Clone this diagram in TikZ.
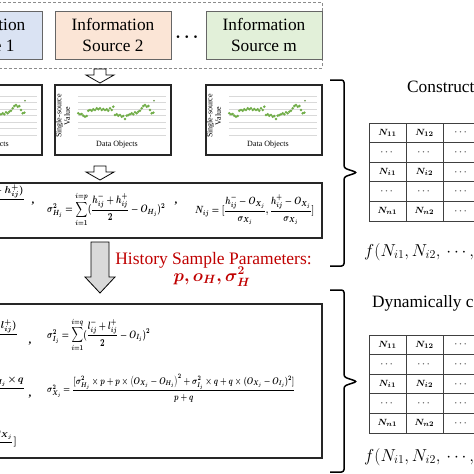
\documentclass[tikz,border=0pt]{standalone}
\usepackage{fontspec}
\setmainfont{Liberation Serif}
\usepackage{amsmath}
\usepackage{graphicx}
\usetikzlibrary{positioning}

\definecolor{srcblue}{RGB}{218,227,243}
\definecolor{srcorange}{RGB}{251,229,214}
\definecolor{srcgreen}{RGB}{226,240,217}
\definecolor{ptgreen}{RGB}{112,173,71}
\definecolor{histred}{RGB}{192,0,0}

\tikzset{
  srcbox/.style={draw=black!60, line width=0.8pt, minimum width=116pt, minimum height=48pt,
    align=center, font=\fontsize{17.3}{21}\selectfont},
  chartbox/.style={draw=black!85, line width=1.2pt},
  eqbox/.style={draw=black!85, line width=1.5pt},
  eq/.style={inner sep=0pt, font=\fontsize{10}{12}\selectfont\boldmath},
  hollow/.style={draw=black, fill=white, line width=0.8pt, line join=miter},
  tabline/.style={draw=black!75, line width=0.7pt},
  cell/.style={inner sep=0pt, font=\fontsize{9.5}{12}\selectfont\boldmath},
  bracket/.style={line width=1.5pt, rounded corners=2.5pt},
}

\begin{document}
\begin{tikzpicture}[x=1pt, y=-1pt]

\useasboundingbox (0,0) rectangle (474,474);
\clip (0,0) rectangle (474,474);
\fill[white] (0,0) rectangle (474,474);

\draw[dashed, dash pattern=on 3pt off 2pt, black!45] (-90,2) rectangle (322,68);

\node[srcbox, fill=srcblue] (src1) at (-16,35) {Information\\Source 1};
\node[srcbox, fill=srcorange] (src2) at (113,35) {Information\\Source 2};
\node[srcbox, fill=srcgreen] (srcm) at (264,35) {Information\\Source m};
\node[font=\fontsize{16}{18}\selectfont] (srcdots) at (188.5,37) {$\boldsymbol{\cdots}$};

\draw[hollow] (94,69) -- (106,69) -- (106,75) -- (114,75) -- (100,83) -- (86,75) -- (94,75) -- cycle;

\foreach \bx [count=\c] in {-74,55,206} {
  \draw[chartbox] (\bx,85) rectangle ++(116,70);
  \foreach \gy in {11,17.5,24,30.5,37,43.5,50}
    \draw[black!15, line width=0.5pt] (\bx+23,85+\gy) -- (\bx+111,85+\gy);
  \foreach \v [count=\k] in {28.3,29.3,29,30.7,31.7,31,25.7,25,25.7,24.3,25,23.3,24.3,23.3,25,24,
      25,24.3,25.7,23.3,25,21.7,30,29.3,30.7,30,31.7,31,34,30.7,30,29.3,28.3,29.3,27.3,28.3,
      26.7,25.7,23.3,21,20,21.7,21,25,28.3,27.7}
    \fill[ptgreen] (\bx+21.67+1.667*\k,85+\v) circle (1.4pt);
  \fill[ptgreen!80!black] (\bx+99,85+15.7) circle (0.9pt);
  \node[rotate=90, align=center, inner sep=0pt, font=\fontsize{8}{8.5}\selectfont]
    (ylab\c) at (\bx+8,116) {Single-source\\Value};
  \node[inner sep=0pt, font=\fontsize{8}{9}\selectfont] (xlab\c) at (\bx+62,145) {Data Objects};
}

\draw[hollow] (94,166) -- (106,166) -- (106,172) -- (114,172) -- (100,180) -- (86,172) -- (94,172) -- cycle;

\draw[eqbox] (-90,183) rectangle (322,238);
\node[eq, anchor=east] (oh) at (25,198)
  {$O_{H_j}=\dfrac{\sum_{i=1}^{p}(h_{ij}^-+h_{ij}^+)}{2\times p}$};
\node[font=\fontsize{11}{12}\selectfont\bfseries] (cm1) at (33,204) {,};
\node[eq, anchor=west] (sigh) at (47,209.5) {\resizebox*{118pt}{34pt}%
  {$\sigma_{H_j}^2=\displaystyle\sum_{i=1}^{i=p}(\frac{h_{ij}^-+h_{ij}^+}{2}-O_{H_j})^2$}};
\node[font=\fontsize{11}{12}\selectfont\bfseries] (cm2) at (176,204) {,};
\node[eq, anchor=west] (nij) at (195,210) {\resizebox*{119pt}{30pt}%
  {$N_{ij}=[\dfrac{h_{ij}^- -O_{X_j}}{\sigma_{X_j}},\dfrac{h_{ij}^+ -O_{X_j}}{\sigma_{X_j}}]$}};

\draw[line width=0.8pt, fill=black!15] (91,242) -- (109,242) -- (109,277) -- (115,277) -- (100,293) -- (85,277) -- (91,277) -- cycle;

\node[text=histred, anchor=base, font=\fontsize{17.5}{20}\selectfont] (hist) at (213.5,264)
  {History Sample Parameters:};
\node[text=histred, anchor=base, font=\fontsize{16.5}{20}\selectfont\boldmath] (hpar) at (212,281)
  {$p,o_H,\sigma_H^2$};

\draw[eqbox] (-90,304) rectangle (322,458);
\node[eq, anchor=east] (oi) at (18,333)
  {$O_{I_j}=\dfrac{\sum_{i=1}^{q}(l_{ij}^-+l_{ij}^+)}{2\times q}$};
\node[font=\fontsize{11}{12}\selectfont\bfseries] (cm3) at (30,344) {,};
\node[eq, anchor=west] (sigi) at (47,335) {\resizebox*{103pt}{34pt}%
  {$\sigma_{I_j}^2=\displaystyle\sum_{i=1}^{i=q}(\frac{l_{ij}^-+l_{ij}^+}{2}-O_{I_j})^2$}};
\node[eq, anchor=east] (ox) at (25,388)
  {$\medmuskip=2mu O_{X_j}=\dfrac{O_{H_j}\times p+O_{I_j}\times q}{p+q}$};
\node[font=\fontsize{11}{12}\selectfont\bfseries] (cm4) at (30,397) {,};
\node[eq, anchor=west] (sigx) at (47,388) {\resizebox*{248pt}{28pt}%
  {$\sigma_{X_j}^2=\dfrac{[\sigma_{H_j}^2\times p+p\times\bigl(O_{X_j}-O_{H_j}\bigr)^2+\sigma_{I_j}^2\times q+q\times(O_{X_j}-O_{I_j})^2]}{p+q}$}};
\node[eq, anchor=east] (nijd) at (17,441)
  {$N_{ij}'=[\dfrac{l_{ij}^- -O_{X_j}}{\sigma_{X_j}},\dfrac{l_{ij}^+ -O_{X_j}}{\sigma_{X_j}}]$};

\draw[bracket] (330,80) -- (344,80) -- (344,168) -- (357,172.5) -- (344,177) -- (344,266) -- (330,266);
\draw[bracket] (330,290) -- (344,290) -- (344,377) -- (357,381.5) -- (344,386) -- (344,472) -- (330,472);

\node[anchor=base west, inner sep=0pt, font=\fontsize{17.3}{20}\selectfont] (title1) at (407,92) {Construct};
\node[anchor=base west, inner sep=0pt, font=\fontsize{17.3}{20}\selectfont] (title2) at (372,307) {Dynamically c};

\foreach \ty [count=\t] in {123,335} {
  \foreach \k in {0,...,5}
    \draw[tabline] (369,\ty+\k*19.6) -- (480,\ty+\k*19.6);
  \foreach \cx in {369,406,443}
    \draw[tabline] (\cx,\ty) -- (\cx,\ty+98);
  \foreach \ca/\cb/\cc [count=\r] in {{N_{11}}/{N_{12}}/{\color{black!60}\cdots},
      {\color{black!60}\cdots}/{\color{black!60}\cdots}/{\color{black!60}\cdots},
      {N_{i1}}/{N_{i2}}/{\color{black!60}\cdots},
      {\color{black!60}\cdots}/{\color{black!60}\cdots}/{\color{black!60}\cdots},
      {N_{n1}}/{N_{n2}}/{\color{black!60}\cdots}} {
    \node[cell] (t\t a\r) at (387.5,\ty+\r*19.6-9.8) {$\ca$};
    \node[cell] (t\t b\r) at (424.5,\ty+\r*19.6-9.8) {$\cb$};
    \node[cell] (t\t c\r) at (461.5,\ty+\r*19.6-9.8) {$\cc$};
  }
}

\node[anchor=west, inner sep=0pt, font=\fontsize{17}{20}\selectfont] (f1) at (364,252)
  {$f(N_{i1}{,}\,N_{i2}{,}\,\cdots{,}\,N_{im})$};
\node[anchor=west, inner sep=0pt, font=\fontsize{17}{20}\selectfont] (f2) at (364,457)
  {$f(N_{i1}{,}\,N_{i2}{,}\,\cdots{,}\,N_{im})$};

\end{tikzpicture}
\end{document}
